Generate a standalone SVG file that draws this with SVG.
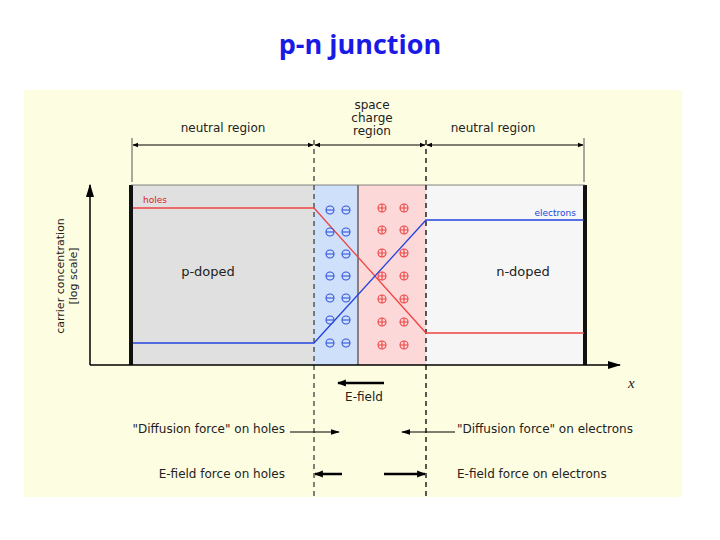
<svg xmlns="http://www.w3.org/2000/svg" width="720" height="540" viewBox="0 0 720 540">
<defs>
<marker id="a" viewBox="0 0 10 10" refX="9" refY="5" markerWidth="9" markerHeight="9" orient="auto-start-reverse"><path d="M0,2 L10,5 L0,8 Z" fill="#000"/></marker>
<marker id="b" viewBox="0 0 10 10" refX="9" refY="5" markerWidth="3.5" markerHeight="3.5" orient="auto-start-reverse"><path d="M0,1 L10,5 L0,9 Z" fill="#000"/></marker>
<marker id="c" viewBox="0 0 10 10" refX="9" refY="5" markerWidth="6" markerHeight="6" orient="auto-start-reverse"><path d="M0,1 L10,5 L0,9 Z" fill="#000"/></marker>
</defs>
<style>
text{font-family:"DejaVu Sans",sans-serif;font-size:12px;fill:#222}
.m{fill:none;stroke:#2244dd;stroke-width:1.3}
.p{fill:none;stroke:#ee4444;stroke-width:1.3}
</style>
<rect width="720" height="540" fill="#fff"/>
<text x="360" y="54" text-anchor="middle" style="font-family:'Open Sans',sans-serif;font-size:27px;font-weight:bold;fill:#1a1ae6">p-n junction</text>
<rect x="24" y="90" width="658" height="407" fill="#fdfde2"/>
<g id="regions">
<rect x="131" y="185" width="183" height="180" fill="#e0e0e0"/>
<rect x="314" y="185" width="44" height="180" fill="#cfe0fb"/>
<rect x="358" y="185" width="68" height="180" fill="#fdd8d8"/>
<rect x="426" y="185" width="159" height="180" fill="#f6f6f6"/>
<line x1="358" y1="185" x2="358" y2="365" stroke="#222" stroke-width="1"/>
<line x1="131" y1="185" x2="131" y2="365" stroke="#111" stroke-width="4"/>
<line x1="585" y1="185" x2="585" y2="365" stroke="#111" stroke-width="4"/>
<line x1="131" y1="185" x2="585" y2="185" stroke="#666" stroke-width="0.8"/>
</g>
<g id="connectors">
<line x1="314" y1="140" x2="314" y2="497" stroke="#555" stroke-width="1.5" stroke-dasharray="5,4"/>
<line x1="426" y1="140" x2="426" y2="497" stroke="#222" stroke-width="1.5" stroke-dasharray="5,4"/>
<line x1="132" y1="138" x2="132" y2="182" stroke="#555"/>
<line x1="584" y1="138" x2="584" y2="182" stroke="#555"/>
<g stroke="#000" stroke-width="1">
<line x1="133" y1="145" x2="313" y2="145" marker-start="url(#c)" marker-end="url(#c)"/>
<line x1="315" y1="145" x2="425" y2="145" marker-start="url(#c)" marker-end="url(#c)"/>
<line x1="427" y1="145" x2="583" y2="145" marker-start="url(#c)" marker-end="url(#c)"/>
</g>
<line x1="90" y1="365" x2="90" y2="185" stroke="#000" stroke-width="1.5" marker-end="url(#a)"/>
<line x1="90" y1="365" x2="620" y2="365" stroke="#000" stroke-width="1.5" marker-end="url(#a)"/>
<polyline class="p" points="133,208 314,208 426,333 584,333"/>
<polyline class="m" points="133,343 314,343 426,220 584,220"/>
<line x1="384" y1="383" x2="338" y2="383" stroke="#000" stroke-width="2.5" marker-end="url(#b)"/>
<line x1="290" y1="432" x2="339" y2="432" stroke="#000" stroke-width="1" marker-end="url(#a)"/>
<line x1="455" y1="432" x2="402" y2="432" stroke="#000" stroke-width="1" marker-end="url(#a)"/>
<line x1="342" y1="474" x2="315" y2="474" stroke="#000" stroke-width="2.5" marker-end="url(#b)"/>
<line x1="384" y1="474" x2="425" y2="474" stroke="#000" stroke-width="2.5" marker-end="url(#b)"/>
</g>
<g id="charges">
<g fill="none" stroke="#3355dd" stroke-width="1.1">
<g id="mc"><circle cx="330" cy="210" r="4"/><line x1="326" y1="210" x2="334" y2="210"/><circle cx="346" cy="210" r="4"/><line x1="342" y1="210" x2="350" y2="210"/></g>
<use href="#mc" y="22"/><use href="#mc" y="44"/><use href="#mc" y="66"/><use href="#mc" y="88"/><use href="#mc" y="110"/><use href="#mc" y="133"/>
</g>
<g fill="none" stroke="#ee4444" stroke-width="1.1">
<g id="pc"><circle cx="382" cy="208" r="4"/><path d="M378,208H386M382,204V212"/><circle cx="404" cy="208" r="4"/><path d="M400,208H408M404,204V212"/></g>
<use href="#pc" y="22"/><use href="#pc" y="45"/><use href="#pc" y="68"/><use href="#pc" y="91"/><use href="#pc" y="114"/><use href="#pc" y="137"/>
</g>
</g>
<g id="labels">
<text x="223" y="132" text-anchor="middle">neutral region</text>
<text x="372" y="109" text-anchor="middle">space</text>
<text x="372" y="122" text-anchor="middle">charge</text>
<text x="372" y="135" text-anchor="middle">region</text>
<text x="493" y="132" text-anchor="middle">neutral region</text>
<text x="143" y="203" style="font-size:9px;fill:#d22">holes</text>
<text x="576" y="216" text-anchor="end" style="font-size:9px;fill:#2244dd">electrons</text>
<text x="208" y="276" text-anchor="middle" style="font-size:13px">p-doped</text>
<text x="523" y="276" text-anchor="middle" style="font-size:13px">n-doped</text>
<text transform="translate(64,276) rotate(-90)" text-anchor="middle" style="font-size:11px">carrier concentration</text>
<text transform="translate(77,276) rotate(-90)" text-anchor="middle" style="font-size:11px">[log scale]</text>
<text x="628" y="388" style="font-family:'Liberation Serif',serif;font-style:italic;font-size:15px">x</text>
<text x="364" y="401" text-anchor="middle">E-field</text>
<text x="285" y="433" text-anchor="end">"Diffusion force" on holes</text>
<text x="457" y="433">"Diffusion force" on electrons</text>
<text x="285" y="478" text-anchor="end">E-field force on holes</text>
<text x="457" y="478">E-field force on electrons</text>
</g>
</svg>
